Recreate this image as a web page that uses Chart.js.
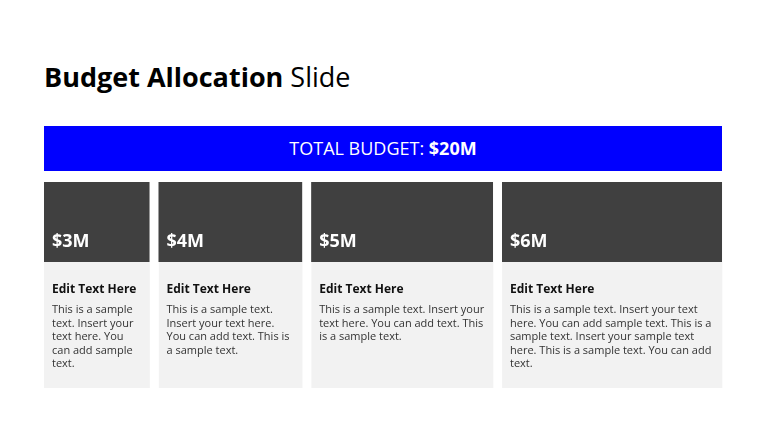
<!DOCTYPE html>
<html><head><meta charset="utf-8">
<script src="https://cdn.jsdelivr.net/npm/chart.js@4"></script>
<style>
body{margin:0;width:768px;height:432px;background:#fff;font-family:"Open Sans",sans-serif;position:relative;overflow:hidden}
#title{position:absolute;left:44px;top:58px;font-size:27px;color:#000}
#banner{position:absolute;left:44px;top:126px;width:678px;height:45px;background:#0000ff;color:#fff;font-size:18px;line-height:45px;text-align:center}
#wrap{position:absolute;left:44px;top:182px;width:687px;height:206px}
</style></head><body>
<div id="title"><b>Budget Allocation</b> Slide</div>
<div id="banner">TOTAL BUDGET: <b>$20M</b></div>
<div id="wrap"><canvas id="c"></canvas></div>
<script>
// Budget parts in millions
const amounts = [3, 4, 5, 6];
const amountLabels = ['$3M', '$4M', '$5M', '$6M'];
const headings = ['Edit Text Here', 'Edit Text Here', 'Edit Text Here', 'Edit Text Here'];
const bodies = [
    'This is a sample text. Insert your text here. You can add sample text.',
    'This is a sample text. Insert your text here. You can add text. This is a sample text.',
    'This is a sample text. Insert your text here. You can add text. This is a sample text.',
    'This is a sample text. Insert your text here. You can add sample text. This is a sample text. Insert your sample text here. This is a sample text. You can add text.'
];
const GAP = 9;

function wrapLines(ctx, text, maxW) {
    const words = text.split(' ');
    const lines = [];
    let line = '';
    words.forEach(w => {
        const t = line ? line + ' ' + w : w;
        if (ctx.measureText(t).width > maxW && line) { lines.push(line); line = w; }
        else line = t;
    });
    if (line) lines.push(line);
    return lines;
}

const cardText = {
    id: 'cardText',
    afterDatasetsDraw(chart) {
        const ctx = chart.ctx;
        chart.data.datasets.forEach((ds, i) => {
            const bar = chart.getDatasetMeta(i).data[0];
            const left = bar.base, right = bar.x - GAP;
            const top = bar.y - bar.height / 2;
            ctx.save();
            ctx.fillStyle = '#404040';
            ctx.fillRect(left, top, right - left, 80);
            ctx.fillStyle = '#fff';
            ctx.font = 'bold 18px "Open Sans"';
            ctx.textBaseline = 'alphabetic';
            ctx.fillText(amountLabels[i], left + 8, top + 65);
            ctx.fillStyle = '#111';
            ctx.font = 'bold 12px "Open Sans"';
            ctx.fillText(headings[i], left + 8, top + 111);
            ctx.fillStyle = '#333';
            ctx.font = '11px "Open Sans"';
            wrapLines(ctx, bodies[i], right - left - 16).forEach((l, k) => {
                ctx.fillText(l, left + 8, top + 131 + k * 13.5);
            });
            ctx.restore();
        });
    }
};

new Chart(document.getElementById('c'), {
    type: 'bar',
    data: {
        labels: ['Budget'],
        datasets: amounts.map((v, i) => ({
            label: amountLabels[i],
            data: [v],
            backgroundColor: '#f2f2f2',
            borderColor: '#ffffff',
            borderWidth: { top: 0, bottom: 0, left: 0, right: GAP },
            borderSkipped: false,
            barPercentage: 1,
            categoryPercentage: 1
        }))
    },
    options: {
        indexAxis: 'y',
        responsive: true,
        maintainAspectRatio: false,
        animation: false,
        layout: { padding: 0 },
        scales: {
            x: { stacked: true, min: 0, max: 18, display: false },
            y: { stacked: true, display: false }
        },
        plugins: { legend: { display: false }, tooltip: { enabled: false } }
    },
    plugins: [cardText]
});
</script>
</body></html>
